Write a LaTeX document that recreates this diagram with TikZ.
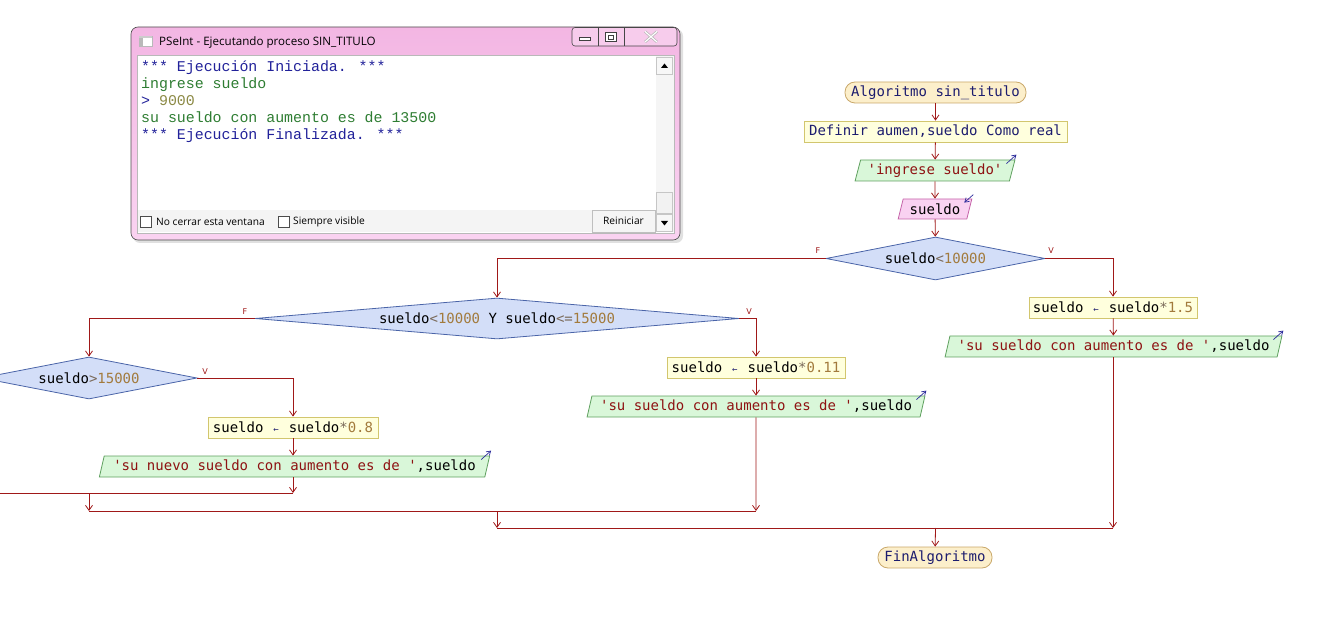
\documentclass[tikz,border=0pt]{standalone}
\usepackage{fontspec}
\setmainfont{DejaVu Sans}
\newfontfamily\fcmono[Ligatures=TeXOff]{DejaVu Sans Mono}
\newfontfamily\conmono[Ligatures=TeXOff]{Liberation Mono}
\newfontfamily\uifont{Open Sans}
\usetikzlibrary{shapes.geometric,arrows.meta,calc}

\definecolor{linered}{HTML}{A01818}
\definecolor{termfill}{HTML}{FCEFCB}
\definecolor{termdraw}{HTML}{C9A86A}
\definecolor{navytxt}{HTML}{1C1C6E}
\definecolor{procfill}{HTML}{FFFFDD}
\definecolor{procdraw}{HTML}{D2C66E}
\definecolor{outfill}{HTML}{D9F7D9}
\definecolor{outdraw}{HTML}{5FA05F}
\definecolor{infill}{HTML}{F9D2F1}
\definecolor{indraw}{HTML}{C463A8}
\definecolor{decfill}{HTML}{D3DEF8}
\definecolor{decdraw}{HTML}{4A64A8}
\definecolor{strred}{HTML}{8E1212}
\definecolor{numbrown}{HTML}{A27A3C}
\definecolor{opgray}{HTML}{7A6A5A}
\definecolor{indblue}{HTML}{2A2A9A}
\definecolor{connavy}{HTML}{22229A}
\definecolor{congreen}{HTML}{2E7D32}
\definecolor{conolive}{HTML}{8C8A45}
\definecolor{pinkA}{HTML}{F3B6E3}
\definecolor{pinkB}{HTML}{FAD3F1}
\definecolor{pinkBtn}{HTML}{F7CCEC}

\newcommand\nm[1]{\textcolor{numbrown}{#1}}
\newcommand\opr[1]{\textcolor{opgray}{#1}}
\newcommand\strg[1]{\textcolor{strred}{#1}}
\newcommand\asg{\makebox[8.43pt]{\textcolor{navytxt}{\fontsize{9}{9}\selectfont ←}}}

\begin{document}
\begin{tikzpicture}[x=1pt,y=-1pt,
  base/.style={font=\fcmono\fontsize{14}{16}\selectfont, inner sep=0pt, minimum height=21pt, line width=0.8pt},
  term/.style={base, rectangle, rounded corners=10pt, draw=termdraw, fill=termfill, text=navytxt},
  proc/.style={base, rectangle, draw=procdraw, fill=procfill},
  outp/.style={base, trapezium, trapezium left angle=70, trapezium right angle=110, trapezium stretches=true, draw=outdraw, fill=outfill},
  inpt/.style={base, trapezium, trapezium left angle=70, trapezium right angle=110, trapezium stretches=true, draw=indraw, fill=infill},
  dec/.style={base, diamond, draw=decdraw, fill=decfill},
  conn/.style={draw=linered, line width=0.8pt, -{Straight Barb[length=5pt,width=7pt]}},
  plain/.style={draw=linered, line width=0.8pt},
  ind/.style={draw=indblue, line width=0.7pt, -{Straight Barb[length=4pt,width=5pt]}},
  lbl/.style={font=\fontsize{8}{8}\selectfont, text=linered, inner sep=0pt},
  con/.style={font=\conmono\fontsize{14.9}{15}\selectfont, anchor=base west, inner sep=0pt},
  ui/.style={font=\uifont\fontsize{10.2}{11}\selectfont, anchor=west, inner sep=0pt}]
\useasboundingbox (0,0) rectangle (1331,636);
\clip (0,0) rectangle (1331,636);

% ---------- console window ----------
\fill[black!12, rounded corners=7pt] (133,29) rectangle (683,243);
\shade[top color=pinkA, bottom color=pinkB, rounded corners=7pt] (131,27) rectangle (680,240);
\draw[gray!60!black, rounded corners=7pt, line width=0.6pt] (131,27) rectangle (680,240);
\fill[gray!55] (139,36) rectangle (153,47);
\fill[white] (143,38) rectangle (152,46);
\fill[gray!40] (139,36) rectangle (152,38.5);
\node[ui, font=\uifont\fontsize{11.6}{12}\selectfont] (title) at (159,42) {PSeInt - Ejecutando proceso SIN\_TITULO};
\draw[fill=pinkBtn, draw=gray!55!black, rounded corners=3pt, line width=0.6pt] (572,27.5) rectangle (677,46);
\draw[gray!55!black, line width=0.6pt] (598,27.5) -- (598,46) (624,27.5) -- (624,46);
\draw[fill=white, draw=gray!50!black, line width=0.5pt] (579.5,37) rectangle (590.5,40.5);
\draw[fill=white, draw=gray!50!black, line width=0.5pt] (605.5,32.5) rectangle (616.5,41.5);
\draw[draw=gray!50!black, line width=0.5pt] (608.5,35.5) rectangle (613.5,39);
\draw[gray!55, line width=2.6pt] (645,31.5) -- (657,42) (645,42) -- (657,31.5);
\draw[white, line width=1.1pt] (645,31.5) -- (657,42) (645,42) -- (657,31.5);
\fill[white] (137.5,55.5) rectangle (674,233);
\draw[gray!55, line width=0.6pt] (137.5,55.5) rectangle (674,233);
% scrollbar
\fill[gray!8] (656,56) rectangle (673.5,232);
\draw[fill=gray!6, draw=gray!45, line width=0.5pt] (656.5,57) rectangle (672.5,74);
\fill[black] (661,68) -- (668,68) -- (664.5,63.5) -- cycle;
\draw[fill=gray!10, draw=gray!45, line width=0.5pt] (656.5,192) rectangle (672.5,213);
\draw[fill=gray!6, draw=gray!45, line width=0.5pt] (656.5,214) rectangle (672.5,231.5);
\fill[black] (661,221) -- (668,221) -- (664.5,225.5) -- cycle;
% bottom bar
\fill[gray!9] (138,210.5) rectangle (592,232.5);
\draw[fill=white, draw=gray!60!black, line width=0.5pt] (140.5,216.5) rectangle (151.5,227.5);
\node[ui] (chk1) at (156,222) {No cerrar esta ventana};
\draw[fill=white, draw=gray!60!black, line width=0.5pt] (278.5,216.5) rectangle (289.5,227.5);
\node[ui] (chk2) at (293,222) {Siempre visible};
\draw[fill=gray!8, draw=gray!50, line width=0.5pt] (592.5,210.5) rectangle (655.5,232);
\node[ui, anchor=center] (rein) at (623.5,221) {Reiniciar};
% console text
\node[con, text=connavy] (c1) at (141,71.5) {*** Ejecución Iniciada. ***};
\node[con, text=congreen] (c2) at (141,88.5) {ingrese sueldo};
\node[con, text=connavy] (c3) at (141,105.5) {> \textcolor{conolive}{9000}};
\node[con, text=congreen] (c4) at (141,122.5) {su sueldo con aumento es de 13500};
\node[con, text=connavy] (c5) at (141,139.5) {*** Ejecución Finalizada. ***};

% ---------- flowchart ----------
\node[term, minimum width=181pt] (start) at (935.5,92.5) {Algoritmo sin\_titulo};
\node[proc, text=navytxt, minimum width=263pt] (def) at (935.5,131.5) {Definir aumen,sueldo Como real};
\node[outp, minimum width=160pt] (ing) at (935,170.5) {\strg{'ingrese sueldo'}};
\node[inpt, minimum width=74pt, minimum height=20pt] (leer) at (935,209) {sueldo};
\node[dec, aspect=5.1, minimum width=219pt, minimum height=43pt] (d1) at (935.5,258.5) {sueldo\opr{<}\nm{10000}};
\node[proc, minimum width=168pt] (b15) at (1113,307.5) {sueldo \asg{} sueldo\opr{*}\nm{1.5}};
\node[outp, minimum width=337pt] (oR) at (1113.5,346.5) {\strg{'su sueldo con aumento es de '},sueldo};
\node[dec, aspect=11.8, minimum width=484pt, minimum height=41pt] (d2) at (497,318.5) {sueldo\opr{<}\nm{10000} Y sueldo\opr{<=}\nm{15000}};
\node[proc, minimum width=178pt] (b011) at (756,367.5) {sueldo \asg{} sueldo\opr{*}\nm{0.11}};
\node[outp, minimum width=338pt] (oM) at (756,406.5) {\strg{'su sueldo con aumento es de '},sueldo};
\node[dec, aspect=5.14, minimum width=216pt, minimum height=42pt] (d3) at (89,378) {sueldo\opr{>}\nm{15000}};
\node[proc, minimum width=170pt] (b08) at (293,427.5) {sueldo \asg{} sueldo\opr{*}\nm{0.8}};
\node[outp, minimum width=391pt] (oL) at (294.5,466.5) {\strg{'su nuevo sueldo con aumento es de '},sueldo};
\node[term, minimum width=114pt] (fin) at (935,557.5) {FinAlgoritmo};

% indicators
\draw[ind] ([shift={(-9,4)}]ing.top right corner) -- ([shift={(1,-5)}]ing.top right corner);
\draw[ind] ([shift={(-9,4)}]oR.top right corner) -- ([shift={(1,-5)}]oR.top right corner);
\draw[ind] ([shift={(-9,4)}]oM.top right corner) -- ([shift={(1,-5)}]oM.top right corner);
\draw[ind] ([shift={(-9,4)}]oL.top right corner) -- ([shift={(1,-5)}]oL.top right corner);
\draw[ind] ([shift={(1,-4)}]leer.top right corner) -- ([shift={(-8,4)}]leer.top right corner);

% junction coordinates
\coordinate (jL) at (-40,493);
\coordinate (jM) at (0,511);
\coordinate (jR) at (0,528);

% connectors
\draw[conn] (start) -- (def);
\draw[conn] (def) -- (ing);
\draw[conn] (ing) -- (leer);
\draw[conn] (leer) -- (d1);
\draw[conn] (d1.west) -| (d2.north);
\draw[conn] (d1.east) -| (b15.north);
\draw[conn] (b15) -- (oR);
\draw[conn] (d2.west) -| (d3.north);
\draw[conn] (d2.east) -| (b011.north);
\draw[conn] (b011) -- (oM);
\draw[conn] (d3.east) -| (b08.north);
\draw[conn] (b08) -- (b08 |- oL.north);
\draw[conn] (d3.west) -| (jL);
\draw[conn] (b08 |- oL.south) -- (b08 |- jL);
\draw[plain] (jL) -- (b08 |- jL);
\draw[conn] (d3 |- jL) -- (d3 |- jM);
\draw[plain] (d3 |- jM) -- (b011 |- jM);
\draw[conn] (oM.south) -- (b011 |- jM);
\draw[conn] (d2 |- jM) -- (d2 |- jR);
\draw[plain] (d2 |- jR) -- (b15 |- jR);
\draw[conn] (b15 |- oR.south) -- (b15 |- jR);
\draw[conn] (d1 |- jR) -- (fin);

% branch labels
\node[lbl] (f1) at (818,251) {F};
\node[lbl] (v1) at (1051,251) {V};
\node[lbl] (f2) at (245,312) {F};
\node[lbl] (v2) at (749,312) {V};
\node[lbl] (v3) at (205,372) {V};
\end{tikzpicture}
\end{document}
